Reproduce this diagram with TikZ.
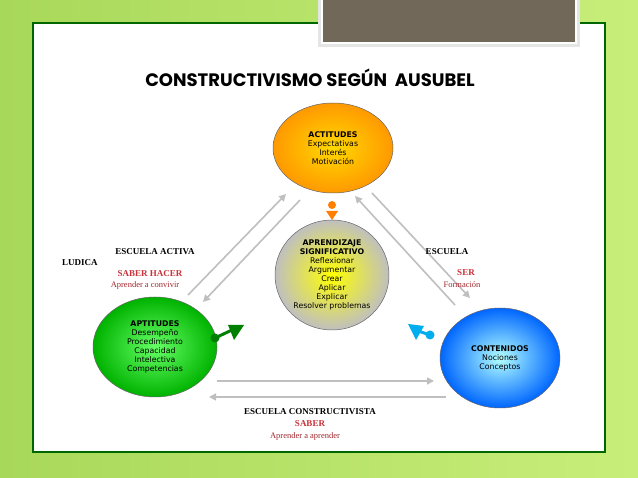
\documentclass[tikz,border=0pt]{standalone}
\usepackage{fontspec}
\setmainfont{Liberation Serif}
\newfontfamily\sans{DejaVu Sans}
\newfontfamily\ttl{Poppins}
\usetikzlibrary{arrows.meta,shapes.geometric}
\definecolor{bgA}{HTML}{A8D85A}
\definecolor{bgB}{HTML}{C8EE7A}
\definecolor{redt}{HTML}{C8323A}
\definecolor{boxc}{HTML}{72685A}
\tikzset{
  circ/.style={ellipse, draw=black!60, line width=0.5pt, align=center, inner sep=0pt, font=\sans\fontsize{7.8}{9}\selectfont},
  garrow/.style={draw=black!25, line width=1.6pt, -{Triangle[length=7pt,width=7pt]}},
  lbl/.style={font=\bfseries\fontsize{9}{10}\selectfont, align=center, inner sep=0pt},
  red/.style={font=\bfseries\fontsize{9}{10}\selectfont, text=redt, inner sep=0pt},
  sub/.style={font=\fontsize{8.5}{10}\selectfont, text=redt!80!black, inner sep=0pt}
}
\begin{document}
\begin{tikzpicture}[x=1pt,y=-1pt]
\useasboundingbox (0,0) rectangle (638,478);
\shade[left color=bgA, right color=bgB] (0,0) rectangle (638,478);
\fill[white, draw=green!40!black, line width=1.2pt] (33,23) rectangle (605,452);
\fill[black!10] (318,-2) rectangle (580,47);
\fill[boxc, draw=white, line width=1.5pt] (322,-2) rectangle (576,43);
\node[font=\ttl\bfseries\fontsize{18}{20}\selectfont, text=black, inner sep=0pt] (title) at (310,78) {CONSTRUCTIVISMO SEGÚN\ \ AUSUBEL};
% circles
\node[circ, minimum width=120pt, minimum height=90pt, inner color=yellow!70!orange, outer color=orange!80!yellow] (act) at (333,148)
  {\textbf{ACTITUDES}\\Expectativas\\Interés\\Motivación};
\node[circ, minimum width=114pt, minimum height=110pt, inner color=yellow, outer color=black!25] (apr) at (332,275)
  {\textbf{APRENDIZAJE}\\\textbf{SIGNIFICATIVO}\\Reflexionar\\Argumentar\\Crear\\Aplicar\\Explicar\\Resolver problemas};
\node[circ, minimum width=124pt, minimum height=100pt, inner color=green!60!white, outer color=green!70!black] (apt) at (155,347)
  {\textbf{APTITUDES}\\Desempeño\\Procedimiento\\Capacidad\\Intelectiva\\Competencias};
\node[circ, minimum width=120pt, minimum height=100pt, inner color=cyan!30!white, outer color=blue!60!cyan] (con) at (500,358)
  {\textbf{CONTENIDOS}\\Nociones\\Conceptos};
% connectors
\coordinate (l1) at (188,295); \coordinate (l2) at (286,194);
\coordinate (l3) at (300,200); \coordinate (l4) at (203,302);
\coordinate (r1) at (372,193); \coordinate (r2) at (470,298);
\coordinate (r3) at (455,305); \coordinate (r4) at (355,196);
\coordinate (b1) at (217,381); \coordinate (b2) at (434,381);
\coordinate (b3) at (446,397); \coordinate (b4) at (209,397);
\draw[garrow] (l1) -- (l2);
\draw[garrow] (l3) -- (l4);
\draw[garrow] (r1) -- (r2);
\draw[garrow] (r3) -- (r4);
\draw[garrow] (b1) -- (b2);
\draw[garrow] (b3) -- (b4);
% small symbols
\fill[orange] (332,205) circle (4pt);
\fill[orange] (326,211) -- (338,211) -- (332,220) -- cycle;
\fill[green!50!black] (215,338) circle (4.5pt);
\draw[green!50!black, line width=3pt] (215,338) -- (232,330);
\fill[green!50!black] (228,325) -- (244,325) -- (234,340) -- cycle;
\fill[cyan] (430,335) circle (4.5pt);
\draw[cyan, line width=3pt] (430,335) -- (415,330);
\fill[cyan] (408,324) -- (424,326) -- (416,340) -- cycle;
% labels
\node[lbl] (ea) at (155,252) {ESCUELA ACTIVA};
\node[lbl, anchor=west] (lu) at (62,263) {LUDICA};
\node[red] (sh) at (150,274) {SABER HACER};
\node[sub] (ac) at (145,285) {Aprender a convivir};
\node[lbl] (es) at (447,252) {ESCUELA};
\node[red] (ser) at (466,273) {SER};
\node[sub] (fo) at (462,285) {Formación};
\node[lbl] (ec) at (310,412) {ESCUELA CONSTRUCTIVISTA};
\node[red] (sa) at (310,424) {SABER};
\node[sub] (aa) at (305,436) {Aprender a aprender};
\end{tikzpicture}
\end{document}
